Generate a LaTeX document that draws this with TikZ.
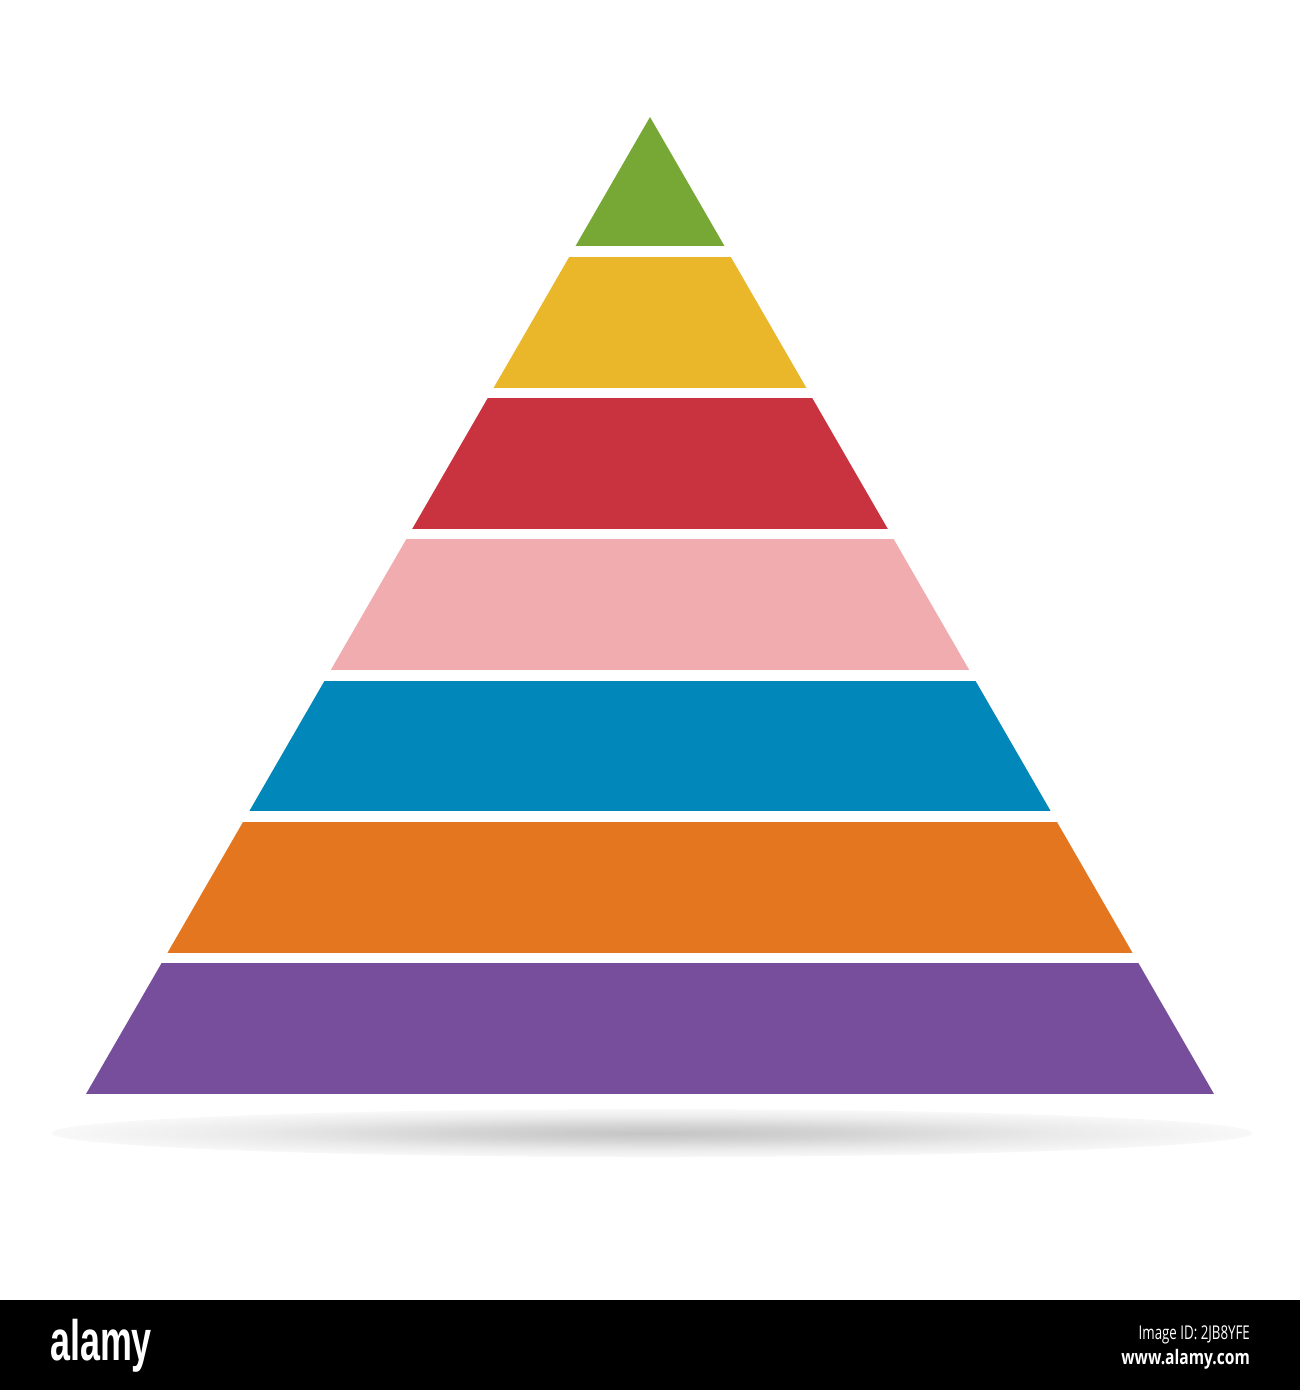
\documentclass[tikz,border=0pt]{standalone}
\usepackage{fontspec}
\setmainfont{Open Sans}
\newfontfamily\wmfont{Liberation Sans}
\definecolor{cgreen}{HTML}{77A836}
\definecolor{cyellow}{HTML}{EAB72B}
\definecolor{cred}{HTML}{C93340}
\definecolor{cpink}{HTML}{F0ACAF}
\definecolor{cblue}{HTML}{0287BA}
\definecolor{corange}{HTML}{E4761F}
\definecolor{cpurple}{HTML}{764E9B}
\pgfdeclareradialshading{shadowshade}{\pgfpoint{0bp}{0bp}}{color(0bp)=(black!23); color(8bp)=(black!17); color(17bp)=(black!8); color(26bp)=(black!2); color(33bp)=(white); color(50bp)=(white)}
\begin{document}
\begin{tikzpicture}[x=1pt,y=-1pt,
  bandfill/.style={fill=#1,draw=none}]
\useasboundingbox (0,0) rectangle (1300,1390);
\fill[white] (0,0) rectangle (1300,1390);
% shadow
\shade[shading=shadowshade] (652,1133) ellipse (600 and 24);
% pyramid bands
\begin{scope}
\clip (650,117) -- (1214,1094) -- (86,1094) -- cycle;
\foreach \t/\b/\c in {117/246/cgreen,257/388/cyellow,398/529/cred,539/670/cpink,681/811/cblue,822/953/corange,963/1094/cpurple}{
  \fill[bandfill=\c] (0,\t) rectangle (1300,\b);
}
\end{scope}
% bottom bar
\fill[black] (0,1300) rectangle (1300,1390);
\node[anchor=base west,inner sep=0,text=white,font=\wmfont\bfseries\fontsize{57}{60}\selectfont,xscale=0.63] (logo) at (50,1360) {alamy};
\node[anchor=base east,inner sep=0,text=white,font=\fontsize{19}{22}\selectfont,xscale=0.7] (imgid) at (1250,1339) {Image ID: 2JB8YFE};
\node[anchor=base east,inner sep=0,text=white,font=\bfseries\fontsize{20}{22}\selectfont,xscale=0.78] (url) at (1250,1364) {www.alamy.com};
\end{tikzpicture}
\end{document}
